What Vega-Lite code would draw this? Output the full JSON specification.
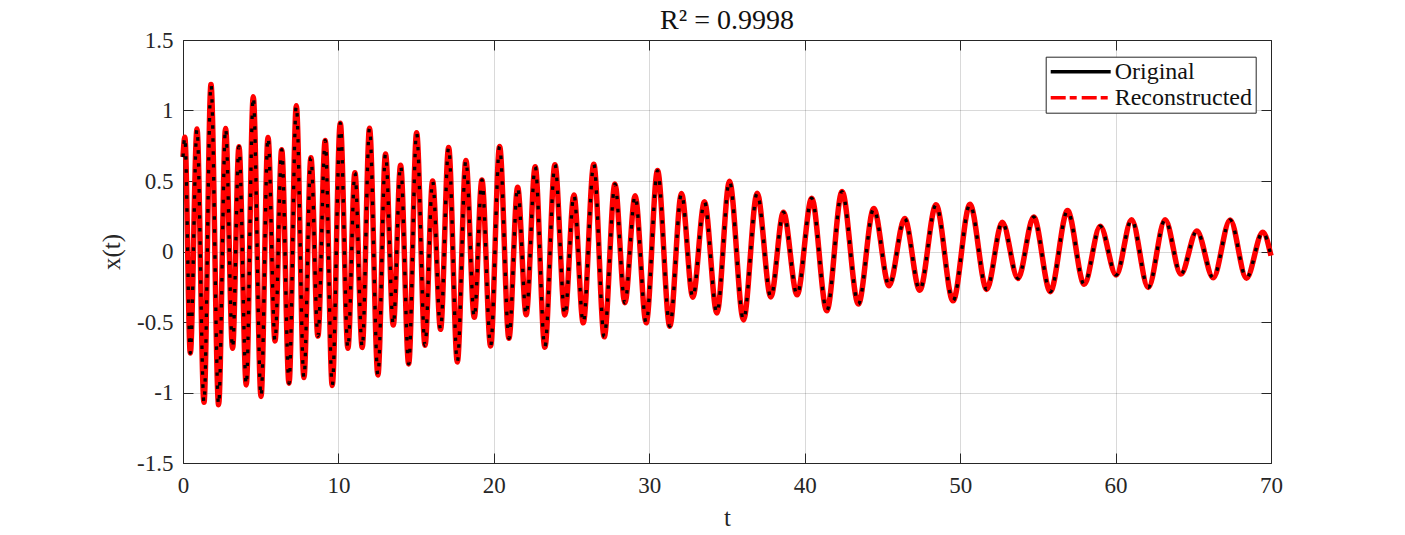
{
  "$schema": "https://vega.github.io/schema/vega-lite/v6.json",
  "width": 1088,
  "height": 423,
  "autosize": "none",
  "padding": {"left": 183, "top": 40, "right": 134, "bottom": 72},
  "background": "white",
  "title": {"text": "R² = 0.9998", "font": "Liberation Serif", "fontSize": 28, "fontWeight": "normal", "color": "#111111", "offset": -6},
  "config": {
    "view": {"stroke": null},
    "axis": {
      "labelFont": "Liberation Serif", "labelFontSize": 23, "labelColor": "#262626",
      "titleFont": "Liberation Serif", "titleFontSize": 25, "titleFontWeight": "normal", "titleColor": "#262626",
      "domainColor": "#262626", "tickColor": "#262626", "gridColor": "#000000", "gridOpacity": 0.15,
      "labelFlush": false, "labelBound": false, "labelOverlap": false
    }
  },
  "data": {"values": [
    {"t":0,"original":0.67,"reconstructed":0.67},
    {"t":0.12,"original":0.81,"reconstructed":0.81},
    {"t":0.47,"original":-0.72,"reconstructed":-0.72},
    {"t":0.9,"original":0.868,"reconstructed":0.868},
    {"t":1.35,"original":-1.07,"reconstructed":-1.07},
    {"t":1.8,"original":1.184,"reconstructed":1.184},
    {"t":2.29,"original":-1.087,"reconstructed":-1.087},
    {"t":2.74,"original":0.873,"reconstructed":0.873},
    {"t":3.19,"original":-0.686,"reconstructed":-0.686},
    {"t":3.6,"original":0.743,"reconstructed":0.743},
    {"t":4.07,"original":-0.946,"reconstructed":-0.946},
    {"t":4.52,"original":1.097,"reconstructed":1.097},
    {"t":5.02,"original":-1.028,"reconstructed":-1.028},
    {"t":5.47,"original":0.809,"reconstructed":0.809},
    {"t":5.92,"original":-0.634,"reconstructed":-0.634},
    {"t":6.35,"original":0.722,"reconstructed":0.722},
    {"t":6.82,"original":-0.934,"reconstructed":-0.934},
    {"t":7.29,"original":1.033,"reconstructed":1.033},
    {"t":7.78,"original":-0.894,"reconstructed":-0.894},
    {"t":8.23,"original":0.665,"reconstructed":0.665},
    {"t":8.68,"original":-0.6,"reconstructed":-0.6},
    {"t":9.15,"original":0.788,"reconstructed":0.788},
    {"t":9.6,"original":-0.95,"reconstructed":-0.95},
    {"t":10.12,"original":0.91,"reconstructed":0.91},
    {"t":10.61,"original":-0.686,"reconstructed":-0.686},
    {"t":11.06,"original":0.559,"reconstructed":0.559},
    {"t":11.53,"original":-0.68,"reconstructed":-0.68},
    {"t":12.0,"original":0.875,"reconstructed":0.875},
    {"t":12.54,"original":-0.875,"reconstructed":-0.875},
    {"t":13.03,"original":0.691,"reconstructed":0.691},
    {"t":13.53,"original":-0.521,"reconstructed":-0.521},
    {"t":14.0,"original":0.611,"reconstructed":0.611},
    {"t":14.52,"original":-0.797,"reconstructed":-0.797},
    {"t":15.03,"original":0.842,"reconstructed":0.842},
    {"t":15.57,"original":-0.665,"reconstructed":-0.665},
    {"t":16.06,"original":0.5,"reconstructed":0.5},
    {"t":16.57,"original":-0.552,"reconstructed":-0.552},
    {"t":17.09,"original":0.738,"reconstructed":0.738},
    {"t":17.65,"original":-0.783,"reconstructed":-0.783},
    {"t":18.2,"original":0.646,"reconstructed":0.646},
    {"t":18.74,"original":-0.467,"reconstructed":-0.467},
    {"t":19.23,"original":0.507,"reconstructed":0.507},
    {"t":19.79,"original":-0.67,"reconstructed":-0.67},
    {"t":20.37,"original":0.745,"reconstructed":0.745},
    {"t":20.97,"original":-0.616,"reconstructed":-0.616},
    {"t":21.53,"original":0.455,"reconstructed":0.455},
    {"t":22.08,"original":-0.448,"reconstructed":-0.448},
    {"t":22.66,"original":0.601,"reconstructed":0.601},
    {"t":23.28,"original":-0.679,"reconstructed":-0.679},
    {"t":23.93,"original":0.616,"reconstructed":0.616},
    {"t":24.57,"original":-0.45,"reconstructed":-0.45},
    {"t":25.15,"original":0.4,"reconstructed":0.4},
    {"t":25.75,"original":-0.506,"reconstructed":-0.506},
    {"t":26.43,"original":0.619,"reconstructed":0.619},
    {"t":27.1,"original":-0.605,"reconstructed":-0.605},
    {"t":27.79,"original":0.478,"reconstructed":0.478},
    {"t":28.43,"original":-0.364,"reconstructed":-0.364},
    {"t":29.09,"original":0.395,"reconstructed":0.395},
    {"t":29.8,"original":-0.506,"reconstructed":-0.506},
    {"t":30.53,"original":0.574,"reconstructed":0.574},
    {"t":31.32,"original":-0.53,"reconstructed":-0.53},
    {"t":32.07,"original":0.411,"reconstructed":0.411},
    {"t":32.8,"original":-0.324,"reconstructed":-0.324},
    {"t":33.55,"original":0.352,"reconstructed":0.352},
    {"t":34.35,"original":-0.437,"reconstructed":-0.437},
    {"t":35.16,"original":0.499,"reconstructed":0.499},
    {"t":36.06,"original":-0.485,"reconstructed":-0.485},
    {"t":36.94,"original":0.414,"reconstructed":0.414},
    {"t":37.82,"original":-0.322,"reconstructed":-0.322},
    {"t":38.63,"original":0.279,"reconstructed":0.279},
    {"t":39.51,"original":-0.307,"reconstructed":-0.307},
    {"t":40.45,"original":0.378,"reconstructed":0.378},
    {"t":41.42,"original":-0.42,"reconstructed":-0.42},
    {"t":42.4,"original":0.425,"reconstructed":0.425},
    {"t":43.45,"original":-0.373,"reconstructed":-0.373},
    {"t":44.44,"original":0.305,"reconstructed":0.305},
    {"t":45.43,"original":-0.243,"reconstructed":-0.243},
    {"t":46.43,"original":0.234,"reconstructed":0.234},
    {"t":47.4,"original":-0.274,"reconstructed":-0.274},
    {"t":48.45,"original":0.331,"reconstructed":0.331},
    {"t":49.54,"original":-0.35,"reconstructed":-0.35},
    {"t":50.63,"original":0.335,"reconstructed":0.335},
    {"t":51.71,"original":-0.269,"reconstructed":-0.269},
    {"t":52.71,"original":0.208,"reconstructed":0.208},
    {"t":53.72,"original":-0.191,"reconstructed":-0.191},
    {"t":54.73,"original":0.245,"reconstructed":0.245},
    {"t":55.8,"original":-0.285,"reconstructed":-0.285},
    {"t":56.91,"original":0.29,"reconstructed":0.29},
    {"t":57.98,"original":-0.233,"reconstructed":-0.233},
    {"t":59.01,"original":0.179,"reconstructed":0.179},
    {"t":60.04,"original":-0.167,"reconstructed":-0.167},
    {"t":61.03,"original":0.226,"reconstructed":0.226},
    {"t":62.1,"original":-0.255,"reconstructed":-0.255},
    {"t":63.19,"original":0.226,"reconstructed":0.226},
    {"t":64.2,"original":-0.16,"reconstructed":-0.16},
    {"t":65.23,"original":0.146,"reconstructed":0.146},
    {"t":66.28,"original":-0.186,"reconstructed":-0.186},
    {"t":67.37,"original":0.224,"reconstructed":0.224},
    {"t":68.42,"original":-0.189,"reconstructed":-0.189},
    {"t":69.47,"original":0.137,"reconstructed":0.137},
    {"t":70,"original":-0.03,"reconstructed":-0.03}
  ]},
  "resolve": {"scale": {"x": "independent", "y": "independent"}},
  "layer": [
    {
      "mark": {"type": "line", "color": "#ff0000", "strokeWidth": 5.5, "interpolate": "monotone"},
      "encoding": {
        "x": {"field": "t", "type": "quantitative", "title": "t",
          "scale": {"domain": [0, 70], "nice": false},
          "axis": {"values": [0,10,20,30,40,50,60,70], "grid": true, "tickSize": -10, "labelPadding": 21, "titlePadding": 8, "labelExpr": "datum.value + ''"}},
        "y": {"field": "reconstructed", "type": "quantitative", "title": "x(t)",
          "scale": {"domain": [-1.5, 1.5], "nice": false},
          "axis": {"values": [-1.5,-1,-0.5,0,0.5,1,1.5], "grid": true, "tickSize": -10, "labelPadding": 20, "titlePadding": 12, "labelExpr": "datum.value + ''"}}
      }
    },
    {
      "mark": {"type": "line", "color": "#000000", "strokeWidth": 3.3, "strokeDash": [3.5, 9.5], "interpolate": "monotone"},
      "encoding": {
        "x": {"field": "t", "type": "quantitative", "scale": {"domain": [0, 70], "nice": false}, "axis": null},
        "y": {"field": "original", "type": "quantitative", "scale": {"domain": [-1.5, 1.5], "nice": false}, "axis": null}
      }
    },
    {
      "transform": [{"filter": "datum.t < 0"}],
      "mark": {"type": "line", "strokeWidth": 3.5},
      "encoding": {
        "x": {"field": "t", "type": "quantitative", "scale": {"domain": [0, 70], "nice": false},
          "axis": {"orient": "top", "values": [0,10,20,30,40,50,60,70], "labels": false, "title": null, "grid": false, "tickSize": -10}},
        "y": {"field": "original", "type": "quantitative", "scale": {"domain": [-1.5, 1.5], "nice": false},
          "axis": {"orient": "right", "values": [-1.5,-1,-0.5,0,0.5,1,1.5], "labels": false, "title": null, "grid": false, "tickSize": -10}},
        "color": {"field": "series", "type": "nominal",
          "scale": {"domain": ["Original", "Reconstructed"], "range": ["#000000", "#ff0000"]},
          "legend": {"orient": "none", "legendX": 862.7, "legendY": 16.7, "title": null, "symbolType": "M -1 0 L 5 0", "symbolSize": 400, "symbolStrokeWidth": 3.5,
            "labelFont": "Liberation Serif", "labelFontSize": 24, "labelColor": "#111111", "strokeColor": "#262626", "fillColor": "white", "padding": 3, "rowPadding": 2, "labelOffset": 42}},
        "strokeDash": {"field": "series", "type": "nominal",
          "scale": {"domain": ["Original", "Reconstructed"], "range": [[1, 0], [15, 4, 7, 5]]},
          "legend": {"orient": "none", "legendX": 862.7, "legendY": 16.7, "title": null, "symbolType": "M -1 0 L 5 0", "symbolSize": 400, "symbolStrokeWidth": 3.5,
            "labelFont": "Liberation Serif", "labelFontSize": 24, "labelColor": "#111111", "strokeColor": "#262626", "fillColor": "white", "padding": 3, "rowPadding": 2, "labelOffset": 42}}
      }
    }
  ]
}
